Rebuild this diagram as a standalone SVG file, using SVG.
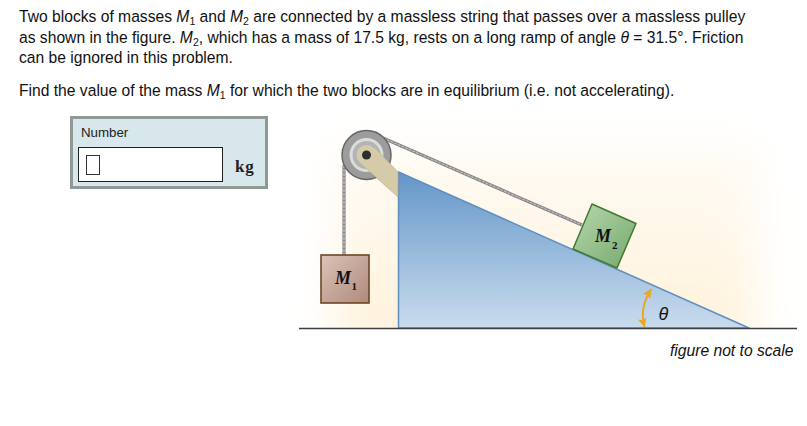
<svg xmlns="http://www.w3.org/2000/svg" width="807" height="426" viewBox="0 0 807 426">
<style>
.t{font-family:"Liberation Sans",Arial,sans-serif;font-size:15.65px;fill:#111}
.i{font-style:italic}
.sub{font-size:10.5px}
.m{font-family:"Liberation Serif","Times New Roman",serif;font-weight:bold;font-style:italic;font-size:18px;fill:#111}
.s{font-family:"Liberation Serif","Times New Roman",serif;font-weight:bold;font-size:11px;fill:#111}
.rope{fill:none;stroke:#858585;stroke-width:3.2}
.rope2{fill:none;stroke:#bdbdbd;stroke-width:1.3;stroke-dasharray:3 1}
</style>
<defs>
<linearGradient id="ramp" x1="0" y1="0" x2="0" y2="1"><stop offset="0" stop-color="#6496c8"/><stop offset="1" stop-color="#c9dcee"/></linearGradient>
<linearGradient id="b1" x1="0" y1="0" x2="1" y2="1"><stop offset="0" stop-color="#dcc3b8"/><stop offset="1" stop-color="#ae8a7c"/></linearGradient>
<linearGradient id="b2" x1="0" y1="0" x2="1" y2="1"><stop offset="0" stop-color="#b8d8ae"/><stop offset="1" stop-color="#74a86c"/></linearGradient>
<linearGradient id="glow" x1="0" y1="0" x2="0" y2="1"><stop offset="0" stop-color="#fffbf5"/><stop offset="1" stop-color="#fff1d8"/></linearGradient>
<filter id="soft" x="-20%" y="-30%" width="140%" height="160%"><feGaussianBlur stdDeviation="22"/></filter>
<clipPath id="above"><rect x="280" y="100" width="527" height="228"/></clipPath>
<marker id="ah" markerWidth="11" markerHeight="10" refX="9" refY="4.500" orient="auto-start-reverse" markerUnits="userSpaceOnUse"><path d="M0 0L9 4.500L0 9L2 4.500z" fill="#eda61e"/></marker>
</defs>

<g id="question">
<text class="t" x="19" y="21.500">Two blocks of masses <tspan class="i">M</tspan><tspan class="sub" dy="3">1</tspan><tspan dy="-3"> and </tspan><tspan class="i">M</tspan><tspan class="sub" dy="3">2</tspan><tspan dy="-3"> are connected by a massless string that passes over a massless pulley</tspan></text>
<text class="t" x="19" y="43">as shown in the figure. <tspan class="i">M</tspan><tspan class="sub" dy="3">2</tspan><tspan dy="-3">, which has a mass of 17.5 kg, rests on a long ramp of angle </tspan><tspan class="i">θ</tspan> = 31.5°. Friction</text>
<text class="t" x="19" y="63">can be ignored in this problem.</text>
<text class="t" x="19" y="96">Find the value of the mass <tspan class="i">M</tspan><tspan class="sub" dy="3">1</tspan><tspan dy="-3"> for which the two blocks are in equilibrium (i.e. not accelerating).</tspan></text>
</g>

<g id="answer-box">
<rect x="71.500" y="117.500" width="195" height="70" fill="#d8e7ec" stroke="#8f9a94" stroke-width="3"/>
<text x="81" y="137" font-family="Liberation Sans,Arial,sans-serif" font-size="13.300" fill="#222">Number</text>
<rect x="78.500" y="147.500" width="144" height="34" fill="#fff" stroke="#222" stroke-width="1"/>
<rect x="86.500" y="155.500" width="13" height="19" fill="#fff" stroke="#333" stroke-width="1"/>
<text x="235" y="172" font-family="Liberation Serif,Times New Roman,serif" font-weight="bold" font-size="17" letter-spacing=".8" fill="#222">kg</text>
</g>

<g clip-path="url(#above)"><rect id="backdrop" x="335" y="145" width="420" height="210" fill="url(#glow)" filter="url(#soft)"/></g>

<g id="connectors">
<path class="rope" d="M344 165V255"/><path class="rope2" d="M344 165V255"/>
<path class="rope" d="M383 138L582 225"/><path class="rope2" d="M383 138L582 225"/>
</g>

<g id="ramp-node">
<polygon points="398.500,172 749,328 398.500,328" fill="url(#ramp)" stroke="#5f8fbf" stroke-width="1.500" stroke-linejoin="round"/>
<path d="M299 328.500H797" stroke="#3a3f44" stroke-width="1.600"/>
</g>

<g id="pulley">
<circle cx="366.500" cy="155" r="24.500" fill="#9c9c9c" stroke="#666" stroke-width="1.500"/>
<circle cx="366.500" cy="155" r="17" fill="#dcdcdc"/>
<circle cx="366.500" cy="155" r="14" fill="#b4b4b4"/>
<polygon points="374,147 398,172 398,197 359,162" fill="#d6cba8" stroke="#b9ad83" stroke-width=".6"/>
<circle cx="366.500" cy="155" r="10" fill="#d6cba8"/>
<circle cx="366.500" cy="155" r="4.500" fill="#2d2d2d"/>
</g>

<g id="block-m1">
<rect x="321" y="255" width="48" height="48" fill="url(#b1)" stroke="#6f4526" stroke-width="1.600"/>
<text class="m" x="335" y="284">M</text><text class="s" x="351.500" y="290">1</text>
</g>

<g id="block-m2">
<polygon points="592,204 636,223.500 617,268 573,249" fill="url(#b2)" stroke="#3f7a2e" stroke-width="1.500" stroke-linejoin="round"/>
<text class="m" x="595" y="242">M</text><text class="s" x="612" y="249">2</text>
</g>

<g id="angle">
<path d="M651.500 289Q639 307 644.500 327" fill="none" stroke="#eda61e" stroke-width="2" marker-start="url(#ah)" marker-end="url(#ah)"/>
<text x="658.500" y="319.500" font-family="Liberation Sans,Arial,sans-serif" font-style="italic" font-size="18" fill="#111">θ</text>
</g>

<text id="note" class="t i" x="670" y="356">figure not to scale</text>
</svg>
